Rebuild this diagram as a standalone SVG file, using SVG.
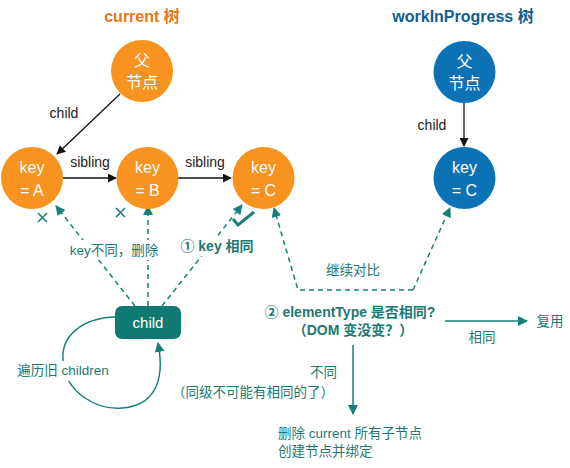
<svg xmlns="http://www.w3.org/2000/svg" width="570" height="468" viewBox="0 0 570 468">
<defs>
<style>
text{font-family:"Liberation Sans","Noto Sans CJK SC",sans-serif;}
.node-o{fill:#F7931E;}
.node-b{fill:#0B72B5;}
.nt{fill:#fff;font-size:16px;text-anchor:middle;}
.lbl{fill:#1a1a1a;font-size:14px;}
.tl{fill:#1B7A73;font-size:13.5px;}
.tb{fill:#1B7A73;font-size:14px;font-weight:bold;}
.solid{stroke:#111;stroke-width:1.3;fill:none;}
.dash{stroke:#15807A;stroke-width:1.5;fill:none;stroke-dasharray:5 4;}
.tsolid{stroke:#15807A;stroke-width:1.5;fill:none;}
.bg{fill:#fff;}
</style>
<marker id="ab" viewBox="0 0 10 10" refX="9" refY="5" markerWidth="9" markerHeight="9" markerUnits="userSpaceOnUse" orient="auto"><path d="M0,0 L10,5 L0,10 z" fill="#111"/></marker>
<marker id="at" viewBox="0 0 10 10" refX="9" refY="5" markerWidth="10" markerHeight="10" markerUnits="userSpaceOnUse" orient="auto"><path d="M0,0 L10,5 L0,10 z" fill="#15807A"/></marker>
</defs>
<rect width="570" height="468" fill="#fff"/>

<text x="142" y="22" text-anchor="middle" style="fill:#E3771A;font-size:16px;font-weight:bold">current 树</text>
<text x="463" y="22" text-anchor="middle" style="fill:#0E5E92;font-size:16px;font-weight:bold">workInProgress 树</text>

<g id="connectors">
<path class="solid" d="M120,94 L57,154" marker-end="url(#ab)"/>
<path class="solid" d="M63,178 L116,178" marker-end="url(#ab)"/>
<path class="solid" d="M178,178 L231,178" marker-end="url(#ab)"/>
<path class="solid" d="M464,103 L464,146" marker-end="url(#ab)"/>
<path class="dash" d="M135,306 L56,206" marker-end="url(#at)"/>
<path class="dash" d="M148,306 L148,206" marker-end="url(#at)"/>
<path class="dash" d="M162,306 L242,205" marker-end="url(#at)"/>
<path class="dash" d="M413,290 L298,290 L274,208" marker-end="url(#at)"/>
<path class="dash" d="M413,290 L450,208" marker-end="url(#at)"/>
<path class="tsolid" d="M115,317 C82,318 61,336 63,360 C65,394 98,410 122,408 C152,406 166,384 158,343" marker-end="url(#at)"/>
<path class="tsolid" d="M445,321 L527,321" marker-end="url(#at)"/>
<path class="tsolid" d="M353,345 L353,414" marker-end="url(#at)"/>
</g>

<g id="labels">
<text class="lbl" x="64" y="118" text-anchor="middle">child</text>
<text class="lbl" x="90" y="167" text-anchor="middle">sibling</text>
<text class="lbl" x="205" y="167" text-anchor="middle">sibling</text>
<text class="lbl" x="432" y="130" text-anchor="middle">child</text>
<rect class="bg" x="68" y="240" width="92" height="20"/>
<text class="tl" x="114" y="255" text-anchor="middle">key不同，删除</text>
<rect class="bg" x="179" y="236" width="78" height="20"/>
<text class="tb" x="217" y="251" text-anchor="middle">① key 相同</text>
<text class="tl" x="353" y="275" text-anchor="middle">继续对比</text>
<rect class="bg" x="15" y="361" width="96" height="20"/>
<text class="tl" x="63" y="375" text-anchor="middle">遍历旧 children</text>
<text class="tb" x="350" y="317" text-anchor="middle">② elementType 是否相同?</text>
<text class="tb" x="353" y="335" text-anchor="middle">（DOM 变没变？）</text>
<text class="tl" x="482" y="342" text-anchor="middle">相同</text>
<text class="tl" x="550" y="326" text-anchor="middle">复用</text>
<text class="tl" x="337" y="377" text-anchor="end">不同</text>
<text class="tl" x="334" y="397" text-anchor="end">（同级不可能有相同的了）</text>
<text class="tl" x="278" y="438">删除 current 所有子节点</text>
<text class="tl" x="278" y="456">创建节点并绑定</text>
<path d="M38,213 L47,222 M47,213 L38,222" stroke="#15807A" stroke-width="1.5" fill="none"/>
<path d="M116,208 L125,217 M125,208 L116,217" stroke="#15807A" stroke-width="1.5" fill="none"/>
<path d="M233,219 L238,225 L254,212" stroke="#15807A" stroke-width="3" fill="none"/>
</g>

<g id="cur-parent"><circle class="node-o" cx="142" cy="71" r="31"/><text class="nt" x="142" y="66">父</text><text class="nt" x="142" y="88">节点</text></g>
<g id="cur-a"><circle class="node-o" cx="32" cy="178" r="31"/><text class="nt" x="32" y="173">key</text><text class="nt" x="32" y="196">= A</text></g>
<g id="cur-b"><circle class="node-o" cx="147.5" cy="178" r="31"/><text class="nt" x="147.5" y="173">key</text><text class="nt" x="147.5" y="196">= B</text></g>
<g id="cur-c"><circle class="node-o" cx="263.5" cy="178" r="31"/><text class="nt" x="263.5" y="173">key</text><text class="nt" x="263.5" y="196">= C</text></g>
<g id="wip-parent"><circle class="node-b" cx="464.5" cy="72" r="31"/><text class="nt" x="464.5" y="67">父</text><text class="nt" x="464.5" y="89">节点</text></g>
<g id="wip-c"><circle class="node-b" cx="464.5" cy="178" r="31"/><text class="nt" x="464.5" y="173">key</text><text class="nt" x="464.5" y="196">= C</text></g>
<g id="child-box"><rect x="115" y="306" width="66" height="33" rx="7" fill="#0F7A72"/><text x="148" y="328" text-anchor="middle" style="fill:#fff;font-size:15px">child</text></g>
</svg>
